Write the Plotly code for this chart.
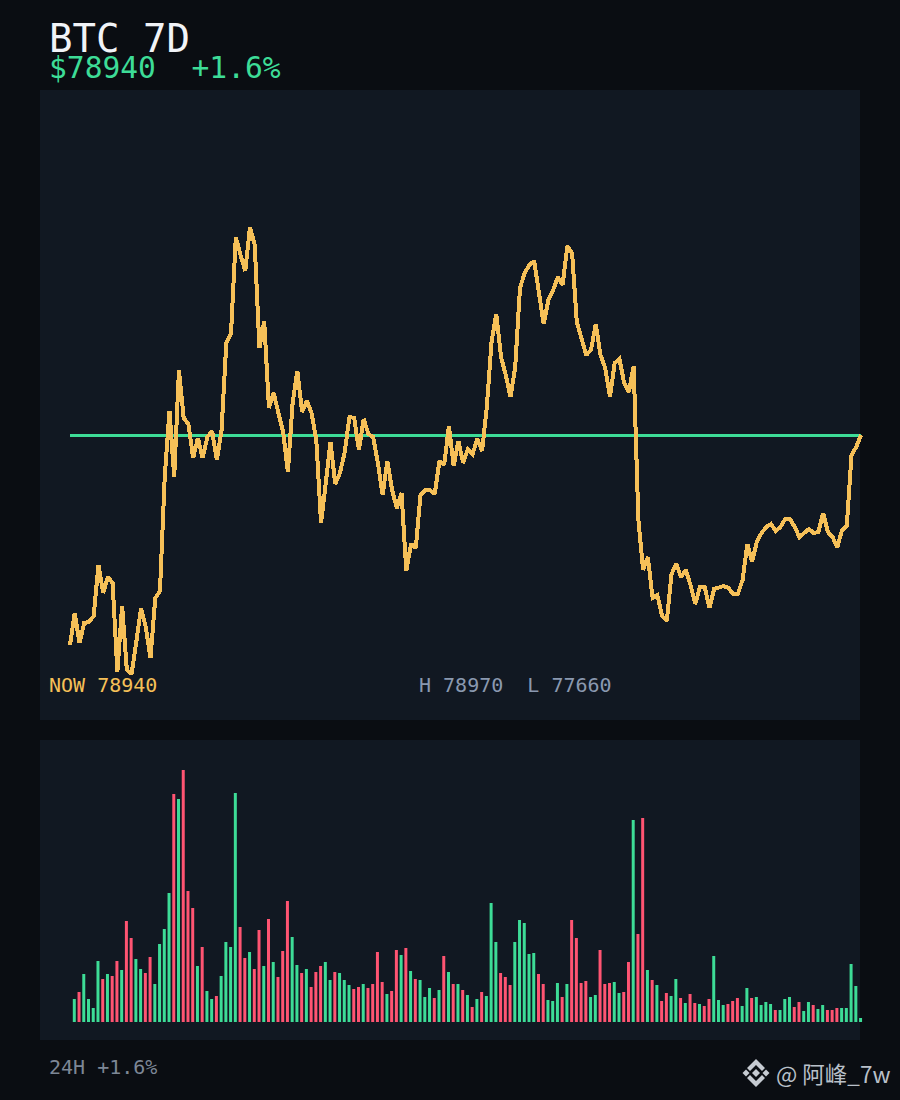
# BTC 7D price line and volume bars

import plotly.graph_objects as go

BG = "#0a0d12"
PANEL = "#111822"
ORANGE = "#f6c058"
GREEN = "#3ddc97"
RED = "#ff5472"
SLATE = "#8a99b0"
MONO = "DejaVu Sans Mono"

# price, read as height above the bottom of the panel
price = [
    75, 107, 77, 97, 98, 104, 155, 127, 143, 137, 48, 114, 50, 46, 78, 112, 93, 62, 122, 129,
    243, 309, 243, 350, 302, 296, 262, 282, 262, 283, 289, 260, 290, 377, 387, 483, 465, 449, 493, 475,
    372, 399, 312, 327, 307, 288, 248, 317, 349, 308, 319, 307, 280, 197, 237, 278, 236, 247, 268, 303,
    302, 270, 301, 286, 283, 257, 225, 259, 230, 212, 227, 149, 176, 172, 225, 230, 230, 226, 259, 255,
    294, 254, 279, 257, 271, 266, 281, 269, 313, 378, 406, 363, 345, 323, 353, 432, 447, 455, 459, 427,
    396, 420, 430, 443, 435, 474, 467, 398, 382, 365, 370, 396, 365, 352, 323, 357, 361, 337, 328, 354,
    200, 150, 163, 122, 125, 104, 99, 146, 156, 143, 150, 135, 116, 133, 133, 112, 131, 132, 134, 132,
    126, 126, 140, 176, 158, 178, 187, 193, 196, 189, 193, 201, 201, 193, 183, 187, 191, 187, 188, 207,
    188, 183, 173, 190, 194, 265, 273, 285,
]
now_level = 284.5

volume = [
    23, 30, 48, 23, 14, 61, 43, 48, 46, 61, 52, 101, 84, 63, 53, 49, 65, 38, 78, 93,
    129, 228, 223, 252, 131, 114, 56, 75, 31, 23, 26, 46, 80, 75, 229, 95, 64, 70, 53, 92,
    56, 103, 60, 45, 71, 121, 85, 57, 49, 53, 35, 50, 56, 60, 42, 50, 49, 42, 37, 33,
    35, 38, 34, 38, 70, 40, 28, 31, 72, 67, 74, 51, 43, 42, 25, 34, 24, 32, 66, 50,
    38, 38, 32, 27, 15, 23, 30, 26, 119, 80, 49, 45, 37, 80, 102, 99, 68, 69, 48, 38,
    22, 21, 39, 25, 38, 102, 84, 39, 41, 25, 27, 72, 38, 39, 40, 29, 30, 60, 202, 88,
    204, 52, 42, 37, 21, 29, 26, 43, 24, 19, 28, 19, 18, 16, 23, 66, 22, 17, 18, 21,
    24, 16, 34, 24, 25, 17, 20, 18, 12, 12, 23, 25, 15, 20, 11, 20, 17, 13, 17, 12,
    12, 14, 14, 14, 58, 36, 4,
]
# g = green bar, r = red bar
bar_dirs = [
    "g", "r", "g", "g", "g", "g", "r", "g", "r", "r", "g", "r", "r", "g", "g", "r", "r", "g", "g", "g",
    "g", "r", "g", "r", "r", "r", "g", "r", "g", "g", "r", "g", "g", "g", "g", "r", "r", "g", "r", "r",
    "g", "r", "g", "r", "r", "r", "g", "g", "r", "g", "r", "r", "r", "g", "g", "r", "g", "g", "g", "r",
    "r", "g", "r", "r", "r", "r", "g", "r", "r", "g", "r", "g", "r", "g", "g", "g", "r", "g", "r", "g",
    "r", "g", "r", "g", "r", "g", "r", "g", "g", "g", "r", "r", "r", "g", "g", "g", "g", "g", "r", "r",
    "g", "g", "g", "r", "g", "r", "r", "r", "r", "g", "g", "r", "r", "r", "g", "g", "r", "r", "g", "r",
    "r", "g", "r", "g", "r", "r", "g", "g", "r", "g", "r", "r", "g", "r", "r", "g", "g", "g", "r", "r",
    "r", "g", "g", "r", "g", "g", "g", "g", "r", "g", "g", "g", "r", "r", "g", "g", "r", "g", "g", "r",
    "r", "r", "g", "g", "g", "g", "g",
]

title_text = "BTC 7D"
quote_text = "$78940  +1.6%"
now_text = "NOW 78940"
range_text = "H 78970  L 77660"
footer_text = "24H +1.6%"
mark_text = "@ 阿峰_7w"

W, H = 900, 1100
STEP = 791 / 167


def fx(x):
    return x / W


def fy(y):
    return 1 - y / H


def diamond(cx, cy, r):
    return (
        f"M{fx(cx - r)},{fy(cy)} L{fx(cx)},{fy(cy - r)} "
        f"L{fx(cx + r)},{fy(cy)} L{fx(cx)},{fy(cy + r)} Z"
    )


def chevron(cx, cy, r, t, up):
    # binance logo arm, pointing up or down
    s = -1 if up else 1
    pts = [
        (cx - r, cy), (cx, cy + s * r), (cx + r, cy),
        (cx + r - t, cy - s * t), (cx, cy + s * (r - 2 * t)), (cx - r + t, cy - s * t),
    ]
    return "M" + " L".join(f"{fx(a)},{fy(b)}" for a, b in pts) + " Z"


fig = go.Figure()

fig.add_trace(go.Scatter(
    x=[0, len(price) - 1],
    y=[now_level, now_level],
    mode="lines",
    line=dict(color=GREEN, width=3),
    xaxis="x",
    yaxis="y",
))
fig.add_trace(go.Scatter(
    x=list(range(len(price))),
    y=price,
    mode="lines",
    line=dict(color=ORANGE, width=4),
    xaxis="x",
    yaxis="y",
))
fig.add_trace(go.Bar(
    x=list(range(len(volume))),
    y=volume,
    width=3 / STEP,
    marker=dict(color=[GREEN if d == "g" else RED for d in bar_dirs], line_width=0),
    xaxis="x2",
    yaxis="y2",
))

# plot areas run a little past the panels, the last marks stick out on the right
fig.update_layout(
    width=W,
    height=H,
    margin=dict(l=0, r=0, t=0, b=0),
    paper_bgcolor=BG,
    plot_bgcolor="rgba(0,0,0,0)",
    showlegend=False,
    xaxis=dict(domain=[40 / W, 870 / W], range=[-30 / STEP, 800 / STEP], visible=False),
    yaxis=dict(domain=[380 / H, 1010 / H], range=[0, 630], visible=False),
    xaxis2=dict(domain=[40 / W, 870 / W], range=[-34.3 / STEP, 795.7 / STEP], visible=False, anchor="y2"),
    yaxis2=dict(domain=[60 / H, 360 / H], range=[-18, 282], visible=False, anchor="x2"),
)

for top, bottom in [(90, 720), (740, 1040)]:
    fig.add_shape(type="rect", xref="paper", yref="paper", layer="below",
                  x0=fx(40), x1=fx(860), y0=fy(bottom), y1=fy(top),
                  fillcolor=PANEL, line_width=0)

labels = [
    (title_text, 47, 38, 39, "#f1f3f7"),
    (quote_text, 47, 68, 29.6, GREEN),
    (now_text, 47, 685, 20, ORANGE),
    (range_text, 417, 685, 20, SLATE),
    (footer_text, 47, 1067, 20, "#7d8796"),
]
for text, x, y, size, color in labels:
    fig.add_annotation(
        x=fx(x), y=fy(y), xref="paper", yref="paper",
        text=text, showarrow=False, xanchor="left", yanchor="middle",
        font=dict(family=MONO, size=size, color=color),
    )

fig.add_annotation(
    x=fx(774), y=fy(1073), xref="paper", yref="paper",
    text=mark_text, showarrow=False, xanchor="left", yanchor="middle",
    font=dict(family="Noto Sans CJK SC", size=22.5, color="#b9c0c9"),
)

# watermark logo
logo = "#c6cbd2"
for path in [
    diamond(756, 1073, 4),
    diamond(746, 1073, 3.5),
    diamond(766, 1073, 3.5),
    chevron(756, 1068, 9, 3, True),
    chevron(756, 1078, 9, 3, False),
]:
    fig.add_shape(type="path", path=path, xref="paper", yref="paper",
                  fillcolor=logo, line_width=0)

fig.write_html(
    "out.html",
    config={"displayModeBar": False},
    post_script=(
        "document.body.style.margin='0';"
        f"document.body.style.background='{BG}';"
        "document.querySelectorAll('.scatterlayer path.js-line').forEach("
        "p=>p.style.shapeRendering='crispEdges');"
    ),
)
